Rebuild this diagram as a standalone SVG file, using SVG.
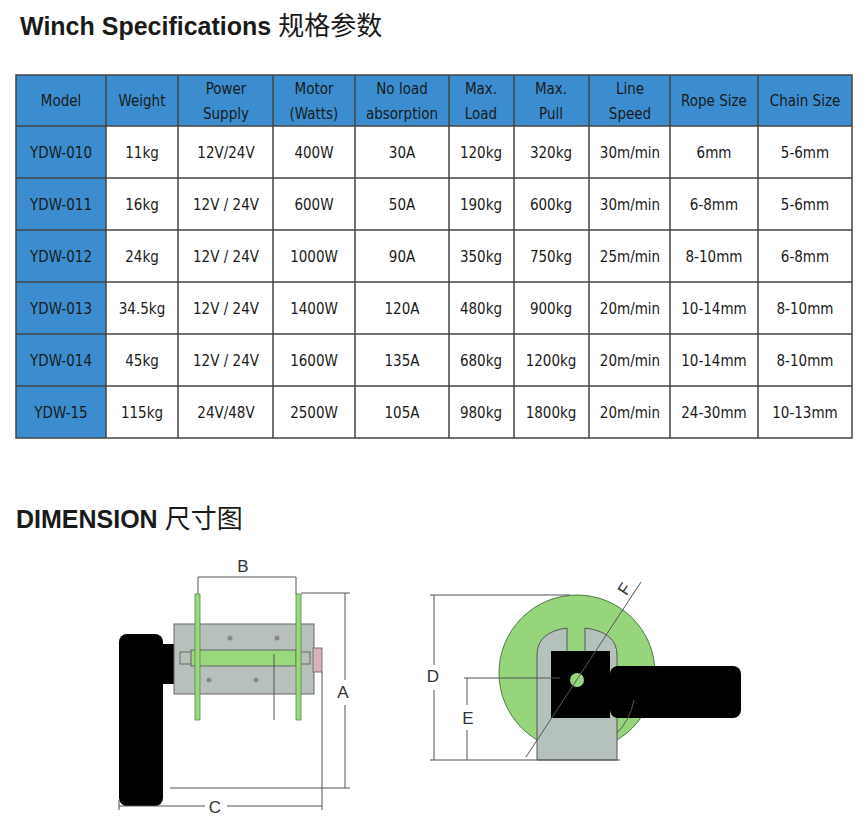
<svg xmlns="http://www.w3.org/2000/svg" width="865" height="826" viewBox="0 0 865 826">
<style>
.h{fill:#3b8dd0}.c{fill:#fff}
.g{stroke:#444;stroke-width:1.5;fill:none}
text{font-family:"DejaVu Sans Condensed","Liberation Sans",sans-serif;fill:#1a1a1a}
.t{font-size:15px;text-anchor:middle}
.ttl{font-family:"Liberation Sans","Noto Sans CJK SC",sans-serif;font-weight:bold;font-size:25px;fill:#1a1a1a}
.cjk{font-family:"Noto Sans CJK SC",sans-serif;font-weight:normal;font-size:26px}
.dim{stroke:#555;stroke-width:1;fill:none}
.dl{font-family:"Liberation Sans",sans-serif;font-size:17px;text-anchor:middle;fill:#333}
</style>
<rect width="865" height="826" fill="#fff"/>
<text x="20" y="35" class="ttl">Winch Specifications <tspan class="cjk">规格参数</tspan></text>
<text x="16" y="528" class="ttl">DIMENSION <tspan class="cjk">尺寸图</tspan></text>
<g id="table">
<rect x="16" y="75" width="836" height="51" class="h"/>
<rect x="16" y="126" width="90" height="312" class="h"/>
<rect x="106" y="126" width="746" height="312" class="c"/>
<g class="g">
<rect x="16" y="75" width="836" height="363"/>
<path d="M106 75V438M178 75V438M273 75V438M355 75V438M449 75V438M514 75V438M589 75V438M670 75V438M758 75V438"/>
<path d="M16 126H852M16 178H852M16 230H852M16 282H852M16 334H852M16 386H852"/>
</g>
<g class="t">
<text x="61" y="106">Model</text><text x="142" y="106">Weight</text>
<text x="226" y="94">Power</text><text x="226" y="119">Supply</text>
<text x="314" y="94">Motor</text><text x="314" y="119">(Watts)</text>
<text x="402" y="94">No load</text><text x="402" y="119">absorption</text>
<text x="481" y="94">Max.</text><text x="481" y="119">Load</text>
<text x="551" y="94">Max.</text><text x="551" y="119">Pull</text>
<text x="630" y="94">Line</text><text x="630" y="119">Speed</text>
<text x="714" y="106">Rope Size</text><text x="805" y="106">Chain Size</text>
</g>
<g class="t">
<g transform="translate(0,158)"><text x="61">YDW-010</text><text x="142">11kg</text><text x="226">12V/24V</text><text x="314">400W</text><text x="402">30A</text><text x="481">120kg</text><text x="551">320kg</text><text x="630">30m/min</text><text x="714">6mm</text><text x="805">5-6mm</text></g>
<g transform="translate(0,210)"><text x="61">YDW-011</text><text x="142">16kg</text><text x="226">12V / 24V</text><text x="314">600W</text><text x="402">50A</text><text x="481">190kg</text><text x="551">600kg</text><text x="630">30m/min</text><text x="714">6-8mm</text><text x="805">5-6mm</text></g>
<g transform="translate(0,262)"><text x="61">YDW-012</text><text x="142">24kg</text><text x="226">12V / 24V</text><text x="314">1000W</text><text x="402">90A</text><text x="481">350kg</text><text x="551">750kg</text><text x="630">25m/min</text><text x="714">8-10mm</text><text x="805">6-8mm</text></g>
<g transform="translate(0,314)"><text x="61">YDW-013</text><text x="142">34.5kg</text><text x="226">12V / 24V</text><text x="314">1400W</text><text x="402">120A</text><text x="481">480kg</text><text x="551">900kg</text><text x="630">20m/min</text><text x="714">10-14mm</text><text x="805">8-10mm</text></g>
<g transform="translate(0,366)"><text x="61">YDW-014</text><text x="142">45kg</text><text x="226">12V / 24V</text><text x="314">1600W</text><text x="402">135A</text><text x="481">680kg</text><text x="551">1200kg</text><text x="630">20m/min</text><text x="714">10-14mm</text><text x="805">8-10mm</text></g>
<g transform="translate(0,418)"><text x="61">YDW-15</text><text x="142">115kg</text><text x="226">24V/48V</text><text x="314">2500W</text><text x="402">105A</text><text x="481">980kg</text><text x="551">1800kg</text><text x="630">20m/min</text><text x="714">24-30mm</text><text x="805">10-13mm</text></g>
</g>
</g>
<g id="side-view">
<rect x="119" y="634" width="44" height="172" rx="8" fill="#000"/>
<rect x="160" y="644" width="14" height="40" fill="#000"/>
<rect x="174" y="624" width="140" height="70" fill="#b8c0bc" stroke="#666"/>
<rect x="180" y="652" width="130" height="12" fill="#b8c0bc" stroke="#666"/>
<rect x="191" y="650" width="105" height="16" fill="#9ad87c" stroke="#666"/>
<rect x="195" y="594" width="5" height="126" fill="#9ad87c" stroke="#5a8a4a" stroke-width="0.8"/>
<rect x="296" y="594" width="5" height="126" fill="#9ad87c" stroke="#5a8a4a" stroke-width="0.8"/>
<rect x="313" y="648" width="9" height="24" fill="#d8b0b8" stroke="#777"/>
<g fill="#888"><circle cx="230" cy="638" r="2.5"/><circle cx="277" cy="638" r="2.5"/><circle cx="209" cy="680" r="2.5"/><circle cx="256" cy="680" r="2.5"/></g>
<path class="dim" d="M274 654V720M198 577H296M198 577V594M296 577V594M301 593H350M345 593V680M345 705V788M170 788H350M119 800V810M322 672V810M119 806H205M227 806H322"/>
<text x="243" y="572" class="dl">B</text><text x="343" y="698" class="dl">A</text><text x="215" y="813" class="dl">C</text>
</g>
<g id="end-view">
<circle cx="577" cy="673" r="78" fill="#96d57c" stroke="#4e7a42"/>
<path d="M537 760V655Q537 632 567 628V665H585V628Q617 632 617 655V760Z" fill="#b5c2bc" stroke="#555"/>
<rect x="551" y="651" width="59" height="67" fill="#000"/>
<rect x="610" y="666" width="131" height="52" rx="8" fill="#000"/>
<circle cx="577" cy="680" r="7" fill="#96d57c"/>
<path class="dim" d="M430 595H570M430 760H620M434 595V665M434 690V760M464 678H560M467 678V705M467 730V760M526 757L641 582M617 733Q630 720 634 700"/>
<text x="433" y="682" class="dl">D</text><text x="468" y="724" class="dl">E</text>
<text x="626" y="594" class="dl" transform="rotate(-57 626 590)">F</text>
</g>
</svg>
